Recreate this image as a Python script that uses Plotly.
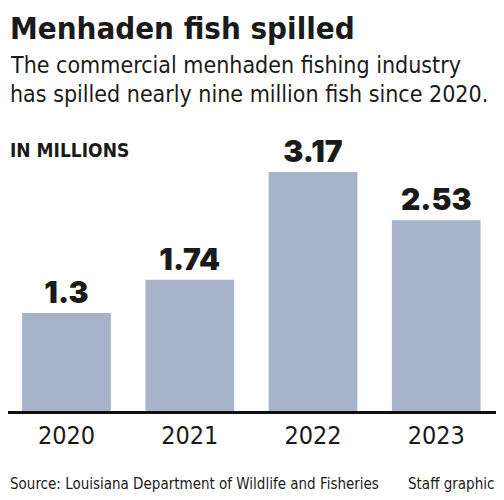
import plotly.graph_objects as go

years = ["2020", "2021", "2022", "2023"]
fish_spilled = [1.3, 1.74, 3.17, 2.53]
value_labels = ["1.3", "1.74", "3.17", "2.53"]

cond = "DejaVu Sans Condensed, sans-serif"
ink = "#1a1a1a"

fig = go.Figure()
fig.add_trace(go.Bar(
    x=years, y=fish_spilled,
    text=value_labels, textposition="outside",
    textfont=dict(family="Inter, Roboto, sans-serif", size=30, color=ink, weight=900),
    marker=dict(color="#a6b3cb", line=dict(width=0)),
    width=0.72, cliponaxis=False,
))

fig.update_xaxes(
    showline=True, linewidth=3, linecolor="#111", ticks="",
    tickfont=dict(family=cond, size=25, color=ink),
    range=[-0.4746, 3.4848], fixedrange=True,
)
fig.update_yaxes(visible=False, range=[0, 4.125], showgrid=False)


def note(text, x, y, size, xanchor="left", weight=400):
    fig.add_annotation(text=text, x=x, xref="paper", xanchor=xanchor,
                       y=y, yref="paper", yanchor="middle", showarrow=False,
                       font=dict(family=cond, size=size, color=ink, weight=weight))


# paper y = (411 - px_y) / 311 relative to the plot area
note("Menhaden fish spilled", 0, 1.232, 31, weight=700)
note("The commercial menhaden fishing industry", 0, 1.1125, 23)
note("has spilled nearly nine million fish since 2020.", 0, 1.019, 23)
note("IN MILLIONS", 0, 0.839, 19, weight=700)
note("Source: Louisiana Department of Wildlife and Fisheries", 0, -0.235, 15)
note("Staff graphic", 1.0, -0.235, 15, xanchor="right")

fig.update_layout(
    width=488, height=484,
    margin=dict(l=0, r=0, t=92, b=81),
    paper_bgcolor="white", plot_bgcolor="white",
    showlegend=False,
)

fig.write_html("out.html")
